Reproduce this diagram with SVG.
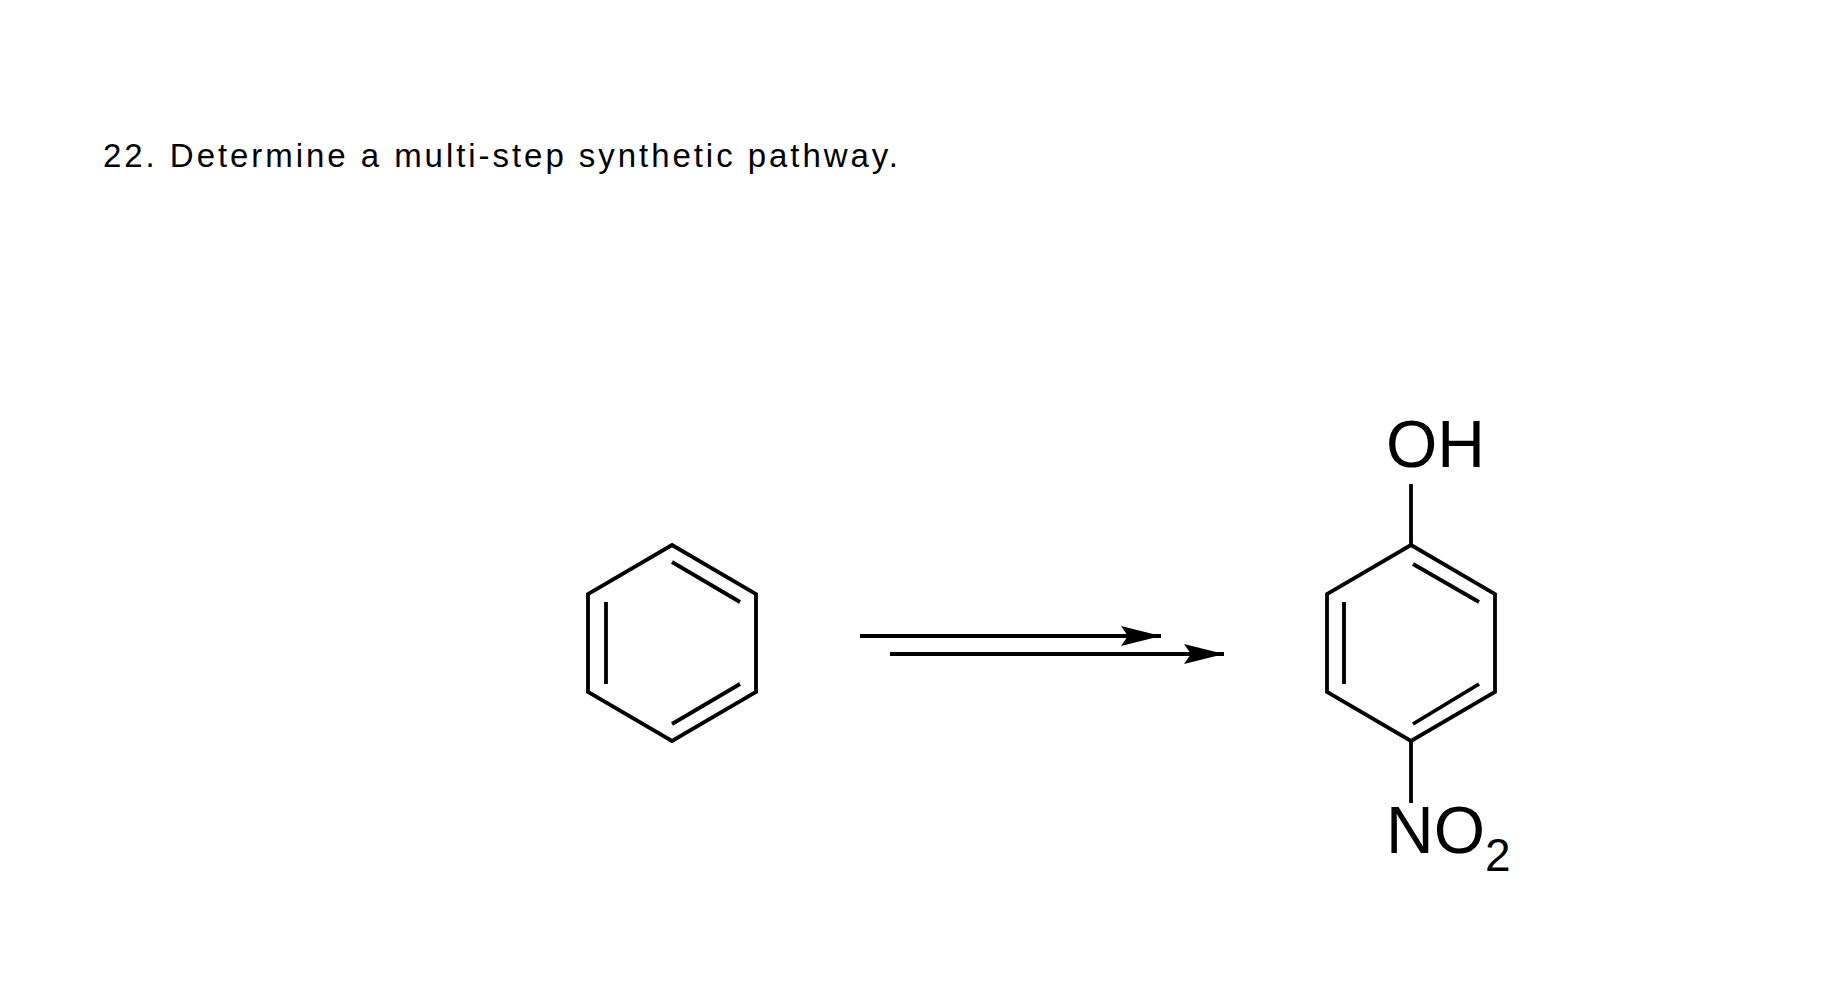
<svg xmlns="http://www.w3.org/2000/svg" width="1830" height="1000" viewBox="0 0 1830 1000">
<style>
.b{stroke:#000;stroke-width:3.8;fill:none;stroke-linejoin:miter}
.t{font-family:"Liberation Sans",Arial,sans-serif;fill:#000}
</style>
<defs>
<marker id="ah" viewBox="0 0 12 8" refX="12" refY="4" markerWidth="12" markerHeight="8" markerUnits="userSpaceOnUse" orient="auto"><path d="M0,0 L12,4 L0,8 L2,4 Z" fill="#000"/></marker>
<marker id="ah2" viewBox="0 0 40 20" refX="40" refY="10" markerWidth="40" markerHeight="20" markerUnits="userSpaceOnUse" orient="auto"><path d="M0,0 L40,10 L0,20 L7,10 Z" fill="#000"/></marker>
</defs>
<rect width="1830" height="1000" fill="#fff"/>
<text class="t" x="103" y="167" font-size="33" font-family="Open Sans,sans-serif" textLength="795">22. Determine a multi-step synthetic pathway.</text>
<g id="benzene">
<polygon class="b" points="672,545 756,594 756,692 672,741 588,692 588,594"/>
<line class="b" x1="672" y1="562" x2="740" y2="602"/>
<line class="b" x1="606" y1="602" x2="606" y2="684"/>
<line class="b" x1="672" y1="724" x2="740" y2="684"/>
</g>
<g id="connectors">
<line class="b" x1="860" y1="636" x2="1161" y2="636" marker-end="url(#ah2)"/>
<line class="b" x1="890" y1="654" x2="1224" y2="654" marker-end="url(#ah2)"/>
</g>
<g id="product">
<polygon class="b" points="1411,545 1495,594 1495,692 1411,741 1327,692 1327,594"/>
<line class="b" x1="1413" y1="564" x2="1479" y2="602"/>
<line class="b" x1="1344" y1="602" x2="1344" y2="684"/>
<line class="b" x1="1413" y1="724" x2="1479" y2="684"/>
<line class="b" x1="1411" y1="545" x2="1411" y2="484"/>
<line class="b" x1="1411" y1="741" x2="1411" y2="803"/>
<text class="t" x="1386" y="467" font-size="66">OH</text>
<text class="t" x="1386" y="853" font-size="66">NO<tspan font-size="46" dy="18">2</tspan></text>
</g>
</svg>
